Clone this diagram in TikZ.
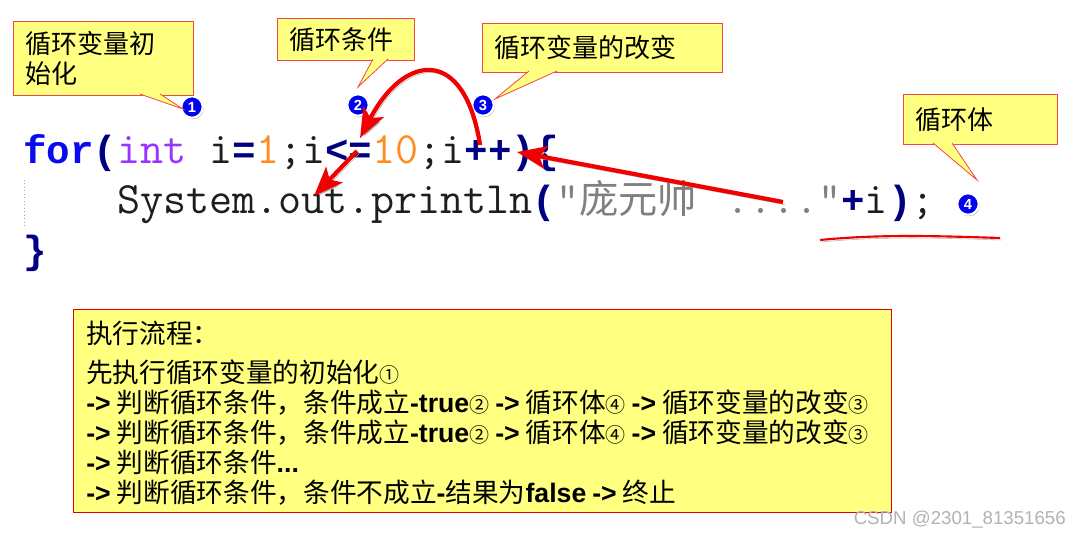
\documentclass[tikz,border=0pt]{standalone}
\usepackage{fontspec}
\setmainfont{Liberation Sans}
\newfontfamily\cjk{Noto Sans CJK SC}
\newfontfamily\boldmono{Liberation Mono}
\usetikzlibrary{arrows.meta,shadows}
\definecolor{callfill}{RGB}{255,255,128}
\definecolor{callline}{RGB}{245,70,70}
\definecolor{boxline}{RGB}{230,0,0}
\definecolor{arrowred}{RGB}{240,0,0}
\definecolor{badgeblue}{RGB}{0,0,240}
\definecolor{kwblue}{RGB}{10,10,240}
\definecolor{opnavy}{RGB}{0,0,128}
\definecolor{typpurple}{RGB}{153,51,255}
\definecolor{numorange}{RGB}{255,140,30}
\definecolor{strgray}{RGB}{128,128,128}
\definecolor{codeblack}{RGB}{30,30,30}
\newcommand{\lat}[1]{{\normalfont\bfseries #1}}
\newcommand{\cn}[1]{{\fontsize{15}{15}\selectfont #1}}
\newcommand{\bm}[1]{{\boldmono\bfseries\fontsize{29.4}{35}\selectfont #1}}
\newcommand{\op}[1]{\textcolor{opnavy}{\bm{#1}}}
\tikzset{
  callbox/.style={draw=callline, fill=callfill, line width=0.6pt, anchor=north west,
    align=left, inner xsep=9pt, inner ysep=0pt, font=\cjk\fontsize{19.5}{22.5}\selectfont},
  calltail/.style={fill=callfill, draw=callline, line width=0.6pt},
  badge/.style={circle, fill=badgeblue, draw=white, line width=1.5pt, minimum size=16pt,
    inner sep=0pt, text=white, font=\bfseries\fontsize{11}{11}\selectfont,
    drop shadow={shadow xshift=0.8pt, shadow yshift=-1.2pt, fill=black!45}},
  code/.style={anchor=base west, inner sep=0pt, text=codeblack,
    font=\ttfamily\fontsize{33.6}{40}\selectfont},
  flow/.style={anchor=base west, inner sep=0pt, font=\cjk\fontsize{20}{24}\selectfont},
  redarrow/.style={draw=arrowred, line width=3.2pt, -{Stealth[length=22pt,width=17pt,inset=5pt]},
    preaction={draw=black!30, transform canvas={xshift=1.5pt,yshift=-2pt}}},
  redline/.style={draw=arrowred, line width=1.6pt,
    preaction={draw=black!30, transform canvas={xshift=1pt,yshift=-1.5pt}}}
}
\begin{document}
\begin{tikzpicture}[x=0.75pt,y=-0.75pt]
  \useasboundingbox (0,0) rectangle (1081,537);

  \node[code] (line1) at (23,163) {\textcolor{kwblue}{\bm{for}}\op{(}\textcolor{typpurple}{int} i\op{=}\textcolor{numorange}{1};i\op{<=}\textcolor{numorange}{10};i\op{++)\{}};
  \node[code] (line2) at (117,213) {System.out.println\op{(}\textcolor{strgray}{"\makebox[3.28em][l]{\cjk\fontsize{29.4}{35}\selectfont 庞元帅}...."}\op{+}i\op{)};};
  \node[code] (line3) at (23,263) {\op{\}}};
  \draw[black!35, dotted, line width=0.6pt] (24,180) -- (24,228);

  \node[badge] (b1) at (192,107) {1};
  \node[badge] (b2) at (358,105) {2};
  \node[badge] (b3) at (483,105) {3};
  \node[badge] (b4) at (968,204) {4};

  \node[callbox, text width=117pt, minimum height=55.5pt] (c1) at (13,21) {循环变量初\\始化};
  \filldraw[calltail] (140,94) -- (183,109) -- (160,94);
  \node[callbox, text width=84.75pt, minimum height=31.5pt] (c2) at (277,18) {循环条件};
  \filldraw[calltail] (373,59) -- (358,87) -- (388,59);
  \node[callbox, text width=162pt, minimum height=36.75pt] (c3) at (482,23) {循环变量的改变};
  \filldraw[calltail] (529,71) -- (495,99) -- (557,71);
  \node[callbox, text width=97.5pt, minimum height=37.5pt] (c4) at (903,94) {循环体};
  \filldraw[calltail] (933,143) -- (977,180) -- (952,143);

  \coordinate (incr) at (480,145);
  \coordinate (cond) at (360,138);
  \coordinate (cond2) at (357,151);
  \coordinate (body) at (314,196);
  \coordinate (strend) at (783,202);
  \coordinate (brace) at (517,152);
  \coordinate (ul1) at (820,240);
  \coordinate (ul2) at (1000,238);
  \draw[redarrow] (incr) .. controls (465,47) and (405,52) .. (cond);
  \draw[redarrow] (cond2) -- (body);
  \draw[redarrow] (strend) -- (brace);
  \draw[redline] (ul1) .. controls (880,234) and (940,236) .. (ul2);

  \node[draw=boxline, fill=callfill, line width=0.8pt, anchor=north west, inner sep=0pt,
    minimum width=613.5pt, minimum height=152.25pt] (flowbox) at (73,309) {};
  \node[flow] (l1) at (86,343) {执行流程：};
  \node[flow] (l2) at (86,382) {先执行循环变量的初始化\cn{①}};
  \node[flow] (l3) at (86,412) {\lat{->} 判断循环条件，条件成立\lat{-true}\cn{②} \lat{->} 循环体\cn{④} \lat{->} 循环变量的改变\cn{③}};
  \node[flow] (l4) at (86,442) {\lat{->} 判断循环条件，条件成立\lat{-true}\cn{②} \lat{->} 循环体\cn{④} \lat{->} 循环变量的改变\cn{③}};
  \node[flow] (l5) at (86,472) {\lat{->} 判断循环条件\lat{...}};
  \node[flow] (l6) at (86,502) {\lat{->} 判断循环条件，条件不成立\lat{-}结果为\lat{false} \lat{->} 终止};

  \node[anchor=east, inner sep=0pt, text=black!30, font=\fontsize{14}{14}\selectfont] (mark) at (1066,520) {CSDN @2301\_81351656};
\end{tikzpicture}
\end{document}
